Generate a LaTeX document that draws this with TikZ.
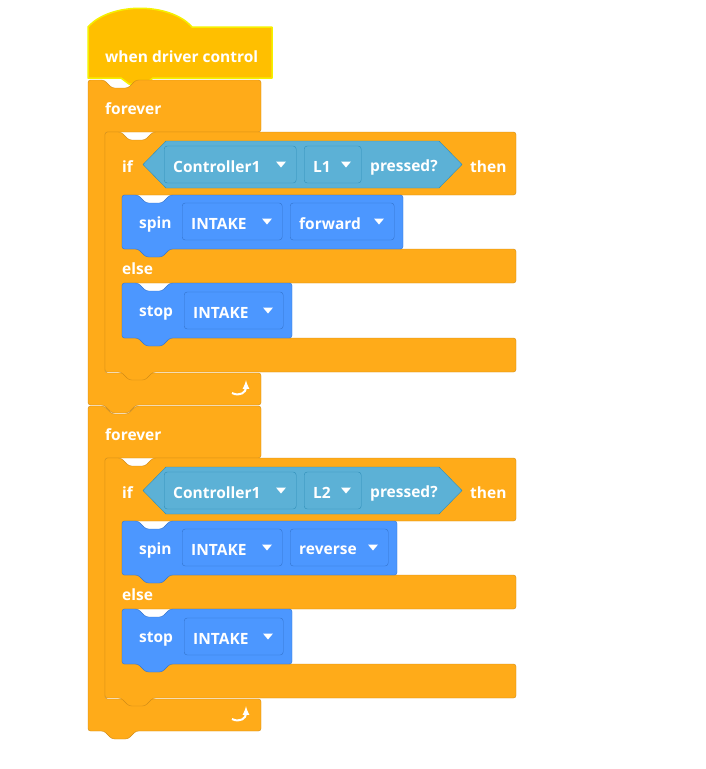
\documentclass[tikz,border=0pt]{standalone}
\usepackage{fontspec}
\setmainfont{Open Sans}
\begin{document}
\begin{tikzpicture}[x=1pt,y=-1pt,line join=round,>=latex]
        \definecolor{ctrlFill}{HTML}{FFAB19}
        \definecolor{ctrlEdge}{HTML}{CF8B17}
        \definecolor{hatFill}{HTML}{FFBF00}
        \definecolor{hatEdge}{HTML}{F5F000}
        \definecolor{motorFill}{HTML}{4C97FF}
        \definecolor{motorEdge}{HTML}{3373CC}
        \definecolor{senseFill}{HTML}{5CB1D6}
        \definecolor{senseEdge}{HTML}{2E8EB8}
        \tikzstyle{ctrl} = [fill=ctrlFill, draw=ctrlEdge, rounded corners=2.5];
        \tikzstyle{motor} = [fill=motorFill, draw=motorEdge, rounded corners=2.5];
        \tikzstyle{label} = [text=white, font=\fontsize{15.5}{18}\selectfont\bfseries,
            inner sep=0pt, anchor=west];
        \tikzstyle{field} = [rectangle, rounded corners=3, minimum height=37,
            inner sep=0pt, anchor=west];
        \tikzstyle{arrowDown} = [fill=white];
        % stack block with top notch and bottom tab
        \newcommand{\stackBlock}[5]{%
            \draw[#5] (#1,#2) -- (#1+16,#2) -- (#1+24,#2+8) -- (#1+40,#2+8)
            -- (#1+48,#2) -- (#3,#2) -- (#3,#4) -- (#1+48,#4) -- (#1+40,#4+8)
            -- (#1+24,#4+8) -- (#1+16,#4) -- (#1,#4) -- cycle;}
        \newcommand{\dropArrow}[2]{%
            \fill[arrowDown] (#1-5,#2-3) -- (#1+5,#2-3) -- (#1,#2+3) -- cycle;}

        % hat block
        \draw[fill=hatFill, draw=hatEdge, line width=1.5]
            (88,78) -- (88,27) .. controls (110,2) and (170,2) .. (192,27)
            -- (272,27) -- (272,78) -- (153,78) -- (145,84) -- (129,84)
            -- (121,78) -- cycle;
        \node[label] (hatText) at (105,57) {when driver control};

        \foreach \dy/\btn/\btnw/\dir/\spinx/\dirw in
            {0/L1/57/forward/403/104, 326/L2/57/reverse/397/98} {
        \begin{scope}[yshift=-\dy pt]
        % forever loop
        \draw[ctrl] (88,80) -- (104,80) -- (112,88) -- (128,88) -- (136,80)
            -- (261,80) -- (261,132) -- (105,132) -- (105,373) -- (261,373)
            -- (261,405) -- (136,405) -- (128,413) -- (112,413) -- (104,405)
            -- (88,405) -- cycle;
        \node[label] (foreverText) at (105,109) {forever};
        \draw[white, line width=2, ->]
            (232,393) .. controls (240,397) and (246,392) .. (246,380);
        % if / else
        \draw[ctrl] (105,132) -- (121,132) -- (129,140) -- (145,140) -- (153,132)
            -- (516,132) -- (516,195) -- (122,195) -- (122,249) -- (516,249)
            -- (516,283) -- (122,283) -- (122,338) -- (516,338) -- (516,372)
            -- (153,372) -- (145,380) -- (129,380) -- (121,372) -- (105,372) -- cycle;
        \node[label] (ifText) at (122,167) {if};
        \node[label] (thenText) at (470,167) {then};
        \node[label] (elseText) at (122,269) {else};
        % condition
        \draw[fill=senseFill, draw=senseEdge] (143,164.5) -- (166,141) -- (439,141)
            -- (462,164.5) -- (439,188) -- (166,188) -- cycle;
        \node[field, fill=senseFill, draw=senseEdge, minimum width=132]
            (ctrlField) at (164,164.5) {};
        \node[label] (ctrlText) at (173,167) {Controller1};
        \dropArrow{281}{164.5}
        \node[field, fill=senseFill, draw=senseEdge, minimum width=\btnw]
            (btnField) at (304,164.5) {};
        \node[label] (btnText) at (313,167) {\btn};
        \dropArrow{346}{164.5}
        \node[label] (pressText) at (370,167) {pressed?};
        % spin
        \stackBlock{122}{195}{\spinx}{249}{motor}
        \node[label] (spinText) at (139,224) {spin};
        \node[field, fill=motorFill, draw=motorEdge, minimum width=100]
            (spinMotor) at (182,221.5) {};
        \node[label] (spinMotorText) at (191,224) {INTAKE};
        \dropArrow{267}{221.5}
        \node[field, fill=motorFill, draw=motorEdge, minimum width=\dirw]
            (dirField) at (290,221.5) {};
        \node[label] (dirText) at (299,224) {\dir};
        \dropArrow{290+\dirw-15}{221.5}
        % stop
        \stackBlock{122}{283}{292}{338}{motor}
        \node[label] (stopText) at (139,313) {stop};
        \node[field, fill=motorFill, draw=motorEdge, minimum width=99]
            (stopMotor) at (184,310.5) {};
        \node[label] (stopMotorText) at (193,313) {INTAKE};
        \dropArrow{268}{310.5}
        \end{scope}
        }
        \useasboundingbox (0,0) rectangle (706,769);
\end{tikzpicture}
\end{document}
